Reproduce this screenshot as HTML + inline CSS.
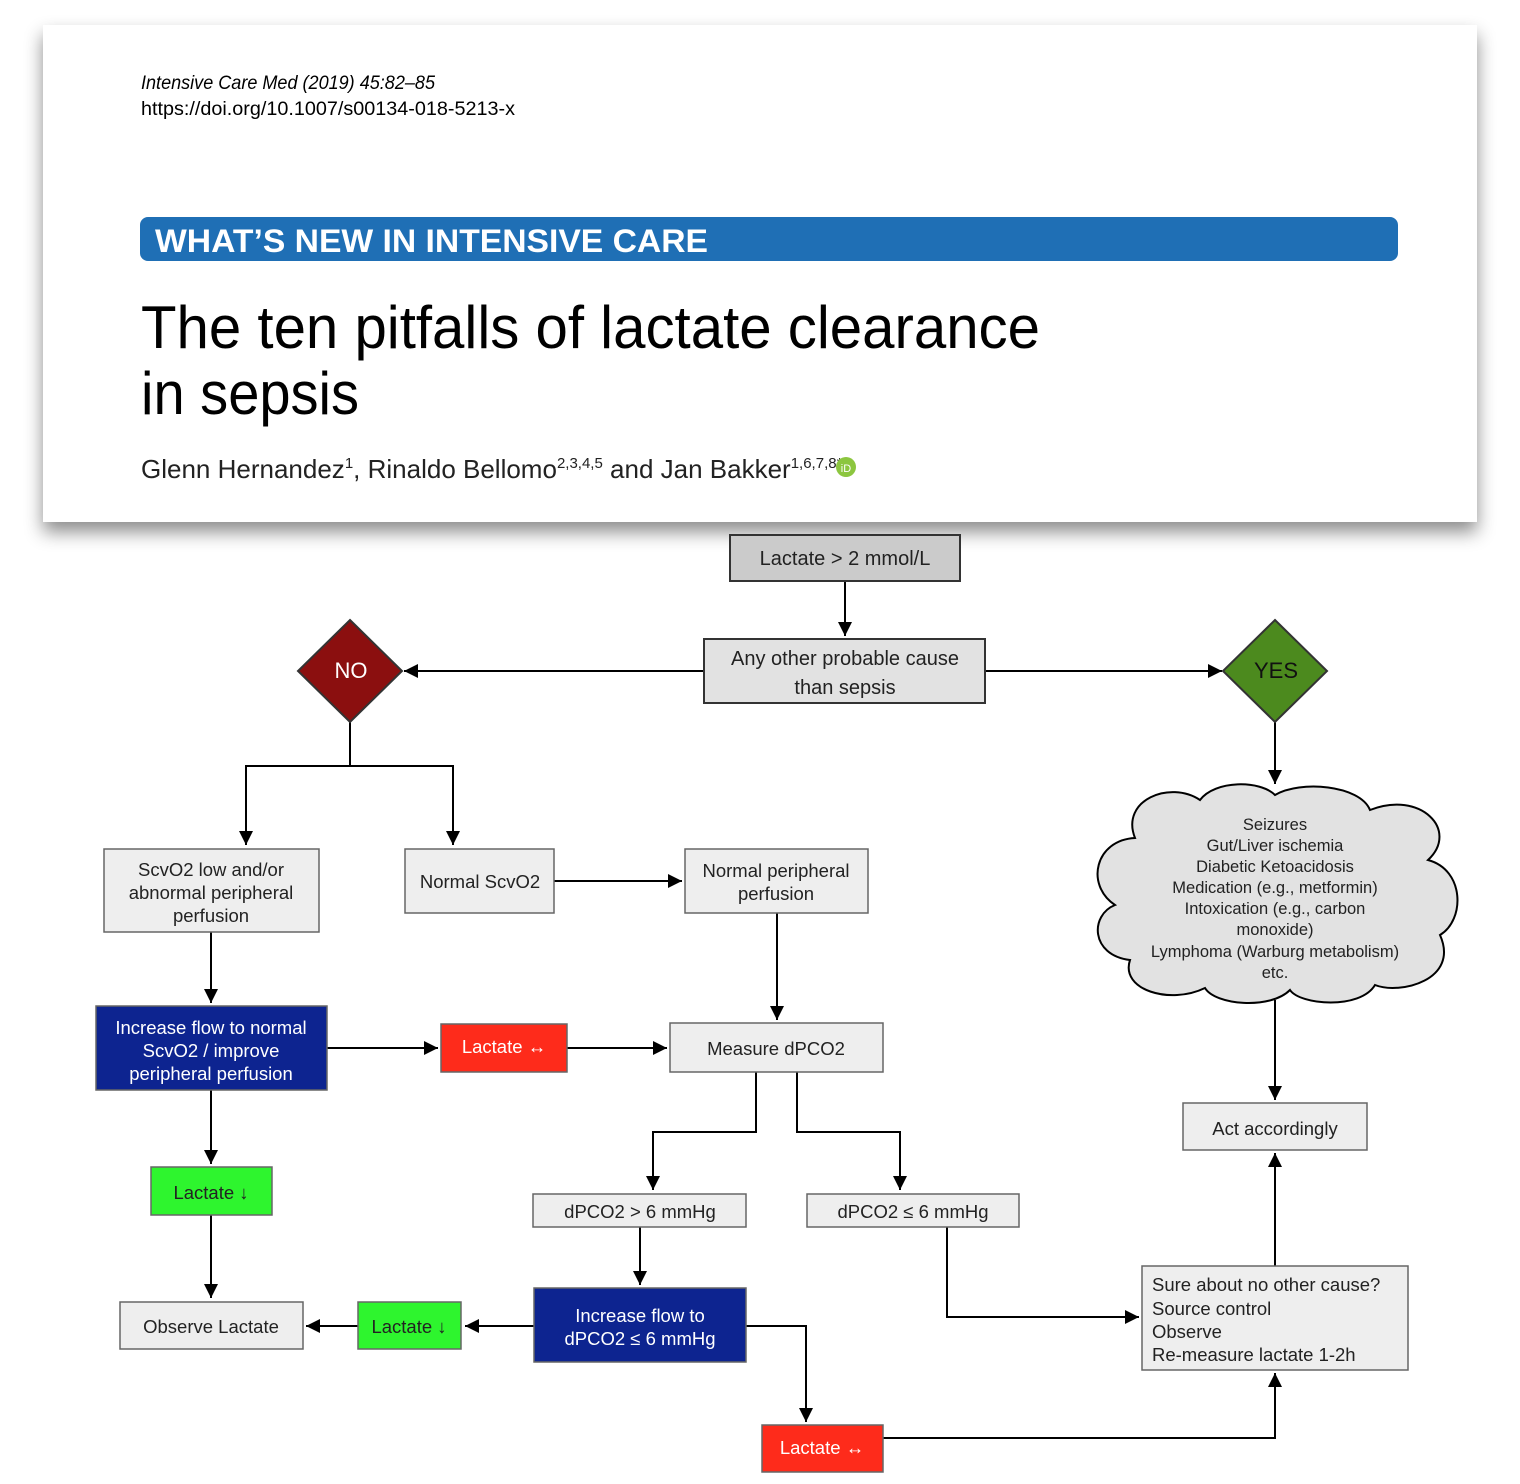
<!DOCTYPE html>
<html><head><meta charset="utf-8"><style>
html,body{margin:0;padding:0;background:#fff;}
svg{display:block;font-family:"Liberation Sans",sans-serif;}
</style></head><body>
<svg width="1520" height="1484" viewBox="0 0 1520 1484" xmlns="http://www.w3.org/2000/svg">
<defs>
<filter id="sh" x="-5%" y="-5%" width="110%" height="120%"><feDropShadow dx="0" dy="10" stdDeviation="9" flood-color="#000" flood-opacity="0.45"/></filter>
<marker id="a" viewBox="0 0 10 10" refX="10" refY="5" markerWidth="9" markerHeight="9" markerUnits="userSpaceOnUse" orient="auto"><path d="M0,0 L10,5 L0,10 z" fill="#000"/></marker>
<marker id="b" viewBox="0 0 10 10" refX="10" refY="5" markerWidth="18" markerHeight="14" markerUnits="userSpaceOnUse" orient="auto"><path d="M0,0 L10,5 L0,10 z" fill="#000"/></marker>
</defs>
<rect x="43" y="25" width="1434" height="497" fill="#fff" filter="url(#sh)"/>
<text x="141" y="89" font-size="19" font-style="italic" textLength="294" lengthAdjust="spacingAndGlyphs">Intensive Care Med (2019) 45:82–85</text>
<text x="141" y="115" font-size="19" textLength="374" lengthAdjust="spacingAndGlyphs">https://doi.org/10.1007/s00134-018-5213-x</text>
<rect x="140" y="217" width="1258" height="44" rx="8" fill="#1f6fb5"/>
<text x="155" y="252" font-size="32" font-weight="bold" fill="#fff" textLength="553" lengthAdjust="spacingAndGlyphs">WHAT’S NEW IN INTENSIVE CARE</text>
<text x="141" y="348" font-size="60" textLength="899" lengthAdjust="spacingAndGlyphs">The ten pitfalls of lactate clearance</text>
<text x="141" y="414" font-size="60" textLength="218" lengthAdjust="spacingAndGlyphs">in sepsis</text>
<text x="141" y="478" font-size="26" fill="#222">Glenn Hernandez<tspan font-size="15" dy="-10">1</tspan><tspan dy="10">, Rinaldo Bellomo</tspan><tspan font-size="15" dy="-10">2,3,4,5</tspan><tspan dy="10"> and Jan Bakker</tspan><tspan font-size="15" dy="-10">1,6,7,8*</tspan></text>
<circle cx="846" cy="467" r="10" fill="#8cc63f"/><text x="846" y="472" font-size="11" fill="#fff" text-anchor="middle">iD</text>

<g stroke="#000" stroke-width="2" fill="none">
<path d="M845,581 V636" marker-end="url(#b)"/>
<path d="M704,671 H404" marker-end="url(#b)"/>
<path d="M985,671 H1222" marker-end="url(#b)"/>
<path d="M350,722 V766 H246 V845" marker-end="url(#b)"/>
<path d="M350,766 H453 V845" marker-end="url(#b)"/>
<path d="M554,881 H682" marker-end="url(#b)"/>
<path d="M211,932 V1003" marker-end="url(#b)"/>
<path d="M327,1048 H438" marker-end="url(#b)"/>
<path d="M567,1048 H667" marker-end="url(#b)"/>
<path d="M777,913 V1020" marker-end="url(#b)"/>
<path d="M756,1072 V1132 H653 V1190" marker-end="url(#b)"/>
<path d="M797,1072 V1132 H900 V1190" marker-end="url(#b)"/>
<path d="M640,1227 V1285" marker-end="url(#b)"/>
<path d="M534,1326 H465" marker-end="url(#b)"/>
<path d="M358,1326 H306" marker-end="url(#b)"/>
<path d="M211,1090 V1164" marker-end="url(#b)"/>
<path d="M211,1215 V1298" marker-end="url(#b)"/>
<path d="M746,1326 H806 V1422" marker-end="url(#b)"/>
<path d="M883,1438 H1275 V1373" marker-end="url(#b)"/>
<path d="M947,1227 V1317 H1139" marker-end="url(#b)"/>
<path d="M1275,1266 V1153" marker-end="url(#b)"/>
<path d="M1275,722 V784" marker-end="url(#b)"/>
<path d="M1275,1000 V1100" marker-end="url(#b)"/>
</g>

<g stroke="#333" stroke-width="2">
<rect x="730" y="535" width="230" height="46" fill="#cbcbcb"/>
<rect x="704" y="639" width="281" height="64" fill="#e2e2e2"/>
<path d="M350,620 L402,671 L350,722 L298,671 z" fill="#8b0f0f"/>
<path d="M1275,620 L1327,671 L1275,722 L1223,671 z" fill="#4c8a1e"/>
</g>
<g stroke="#666" stroke-width="1.5">
<rect x="104" y="849" width="215" height="83" fill="#eee"/>
<rect x="405" y="849" width="149" height="64" fill="#eee"/>
<rect x="685" y="849" width="183" height="64" fill="#eee"/>
<rect x="96" y="1006" width="231" height="84" fill="#0d2490"/>
<rect x="441" y="1024" width="126" height="48" fill="#fe2b1b"/>
<rect x="670" y="1023" width="213" height="49" fill="#eee"/>
<rect x="533" y="1194" width="213" height="33" fill="#eee"/>
<rect x="807" y="1194" width="212" height="33" fill="#eee"/>
<rect x="534" y="1288" width="212" height="74" fill="#0d2490"/>
<rect x="358" y="1302" width="103" height="47" fill="#2ef52e"/>
<rect x="120" y="1302" width="183" height="47" fill="#eee"/>
<rect x="151" y="1167" width="121" height="48" fill="#2ef52e"/>
<rect x="762" y="1425" width="121" height="47" fill="#fe2b1b"/>
<rect x="1142" y="1266" width="266" height="104" fill="#eee"/>
<rect x="1183" y="1103" width="184" height="47" fill="#eee"/>
</g>
<path d="M1135,838 C1120,800 1170,780 1200,800 C1215,780 1260,780 1275,795 C1300,780 1360,785 1370,810 C1420,790 1460,830 1428,860 C1465,870 1465,920 1440,935 C1460,980 1400,995 1375,985 C1360,1010 1300,1005 1290,990 C1270,1010 1215,1005 1205,988 C1170,1005 1120,990 1130,960 C1090,955 1090,915 1115,905 C1085,885 1095,840 1135,838 z" fill="#e2e2e2" stroke="#000" stroke-width="2"/>

<g font-size="20" fill="#222" text-anchor="middle">
<text x="845" y="565">Lactate &gt; 2 mmol/L</text>
<text x="845" y="665">Any other probable cause</text>
<text x="845" y="694">than sepsis</text>
<text x="351" y="678" fill="#fff" font-size="22">NO</text>
<text x="1276" y="678" fill="#111" font-size="22">YES</text>
<text x="211" y="876" font-size="18.5">ScvO2 low and/or</text>
<text x="211" y="899" font-size="18.5">abnormal peripheral</text>
<text x="211" y="922" font-size="18.5">perfusion</text>
<text x="480" y="888" font-size="18.5">Normal ScvO2</text>
<text x="776" y="877" font-size="18.5">Normal peripheral</text>
<text x="776" y="900" font-size="18.5">perfusion</text>
<g fill="#fff" font-size="18.5"><text x="211" y="1034">Increase flow to normal</text><text x="211" y="1057">ScvO2 / improve</text><text x="211" y="1080">peripheral perfusion</text>
<text x="504" y="1053">Lactate ↔</text>
<text x="640" y="1322">Increase flow to</text><text x="640" y="1345">dPCO2 ≤ 6 mmHg</text>
<text x="822" y="1454">Lactate ↔</text></g>
<text x="776" y="1055" font-size="18.5">Measure dPCO2</text>
<text x="640" y="1218" font-size="18.5">dPCO2 &gt; 6 mmHg</text>
<text x="913" y="1218" font-size="18.5">dPCO2 ≤ 6 mmHg</text>
<text x="211" y="1199" font-size="18.5">Lactate ↓</text>
<text x="409" y="1333" font-size="18.5">Lactate ↓</text>
<text x="211" y="1333" font-size="18.5">Observe Lactate</text>
<text x="1275" y="1135" font-size="18.5">Act accordingly</text>
<g font-size="16.5"><text x="1275" y="830">Seizures</text><text x="1275" y="851">Gut/Liver ischemia</text><text x="1275" y="872">Diabetic Ketoacidosis</text><text x="1275" y="893">Medication (e.g., metformin)</text><text x="1275" y="914">Intoxication (e.g., carbon</text><text x="1275" y="935">monoxide)</text><text x="1275" y="957">Lymphoma (Warburg metabolism)</text><text x="1275" y="978">etc.</text></g>
<g text-anchor="start" font-size="18.5"><text x="1152" y="1291">Sure about no other cause?</text><text x="1152" y="1315">Source control</text><text x="1152" y="1338">Observe</text><text x="1152" y="1361">Re-measure lactate 1-2h</text></g>
</g>
</svg>
</body></html>
